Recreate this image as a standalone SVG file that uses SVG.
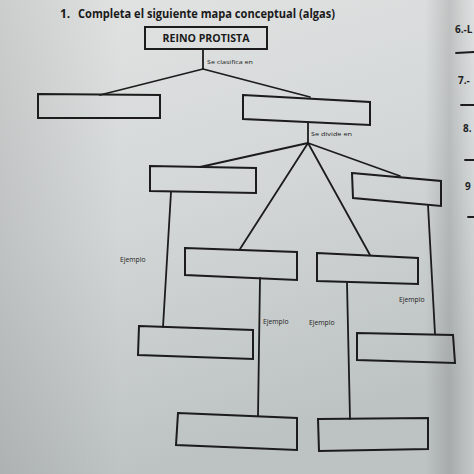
<svg xmlns="http://www.w3.org/2000/svg" width="474" height="474" viewBox="0 0 474 474">
<defs>
<linearGradient id="bg" x1="0" y1="0" x2="0.3" y2="1">
<stop offset="0" stop-color="#e2e4e3"/>
<stop offset="0.5" stop-color="#d3d7d7"/>
<stop offset="1" stop-color="#bdc2c2"/>
</linearGradient>
<linearGradient id="fold" x1="0" y1="0" x2="1" y2="0">
<stop offset="0" stop-color="#000" stop-opacity="0"/>
<stop offset="0.5" stop-color="#000" stop-opacity="0.12"/>
<stop offset="1" stop-color="#fff" stop-opacity="0.1"/>
</linearGradient>
<linearGradient id="leftshade" x1="0" y1="0" x2="1" y2="0">
<stop offset="0" stop-color="#000" stop-opacity="0.1"/>
<stop offset="1" stop-color="#000" stop-opacity="0"/>
</linearGradient>
<style>
.box{fill:none;stroke:#1c1c1c;stroke-width:2;stroke-linejoin:miter}
.ln{fill:none;stroke:#1c1c1c;stroke-width:1.8;stroke-linecap:round}
.t{font-family:"Open Sans","Liberation Sans",sans-serif;fill:#1a1a1a}
.lbl{font-family:"Open Sans","Liberation Sans",sans-serif;fill:#222;font-size:6.8px}
.sm{font-family:"Open Sans","Liberation Sans",sans-serif;fill:#222;font-size:6px}
.side{font-family:"Open Sans","Liberation Sans",sans-serif;fill:#222;font-size:10px;font-weight:bold}
</style>
</defs>
<rect width="474" height="474" fill="url(#bg)"/>
<rect width="120" height="474" fill="url(#leftshade)"/>
<rect x="425" width="49" height="474" fill="url(#fold)"/>

<text class="t" x="60" y="18" font-size="12" font-weight="bold">1.</text>
<text class="t" x="78" y="17.5" font-size="12" font-weight="bold" textLength="257" lengthAdjust="spacingAndGlyphs">Completa el siguiente mapa conceptual (algas)</text>

<g id="connectors">
<polyline class="ln" points="203,49 203,69"/>
<line class="ln" x1="203" y1="69" x2="100" y2="95"/>
<line class="ln" x1="203" y1="69" x2="310" y2="97"/>
<polyline class="ln" points="308,123 308,143"/>
<line class="ln" x1="308" y1="143" x2="200" y2="167"/>
<line class="ln" x1="308" y1="143" x2="240" y2="249"/>
<line class="ln" x1="308" y1="143" x2="370" y2="255"/>
<line class="ln" x1="308" y1="143" x2="400" y2="176"/>
<line class="ln" x1="171" y1="192" x2="163" y2="327"/>
<line class="ln" x1="260" y1="278" x2="258" y2="416"/>
<line class="ln" x1="347" y1="283" x2="350" y2="419"/>
<line class="ln" x1="428" y1="205" x2="435" y2="334"/>
</g>

<g id="reino-protista">
<polygon class="box" points="145,27 267,27 267,49 145,49"/>
<text class="t" x="206" y="41.5" font-size="10.5" font-weight="bold" text-anchor="middle" textLength="87" lengthAdjust="spacingAndGlyphs">REINO PROTISTA</text>
</g>
<text class="sm" x="207" y="64" textLength="46" lengthAdjust="spacingAndGlyphs">Se clasifica en</text>

<g id="clase-1"><polygon class="box" points="38,94 160,95 160,118 38,118"/></g>
<g id="clase-2"><polygon class="box" points="243,95 370,102 370,125 243,119"/></g>
<text class="sm" x="311" y="136" textLength="41" lengthAdjust="spacingAndGlyphs">Se divide en</text>

<g id="tipo-1"><polygon class="box" points="150,166 256,168 256,193 150,191"/></g>
<g id="tipo-2"><polygon class="box" points="185,248 297,252 297,280 185,275"/></g>
<g id="tipo-3"><polygon class="box" points="317,253 418,258 418,284 317,281"/></g>
<g id="tipo-4"><polygon class="box" points="352,173 441,181 441,206 353,198"/></g>

<g id="ejemplo-1"><polygon class="box" points="139,326 253,330 253,359 138,355"/></g>
<g id="ejemplo-2"><polygon class="box" points="178,413 297,418 297,450 176,445"/></g>
<g id="ejemplo-3"><polygon class="box" points="318,419 428,418 428,449 319,451"/></g>
<g id="ejemplo-4"><polygon class="box" points="357,333 453,335 455,363 357,360"/></g>

<text class="lbl" x="120" y="262">Ejemplo</text>
<text class="lbl" x="263" y="324">Ejemplo</text>
<text class="lbl" x="309" y="325">Ejemplo</text>
<text class="lbl" x="399" y="302">Ejemplo</text>

<g id="margin">
<text class="side" x="455" y="33">6.-L</text>
<line class="ln" x1="456" y1="53" x2="474" y2="52" stroke-width="1.2"/>
<text class="side" x="458" y="84">7.-</text>
<line class="ln" x1="461" y1="105" x2="474" y2="105" stroke-width="1.2"/>
<text class="side" x="463" y="132">8.</text>
<line class="ln" x1="465" y1="160" x2="474" y2="160" stroke-width="1.2"/>
<text class="side" x="465" y="190">9</text>
<line class="ln" x1="468" y1="217" x2="474" y2="217" stroke-width="1.2"/>
</g>
</svg>
